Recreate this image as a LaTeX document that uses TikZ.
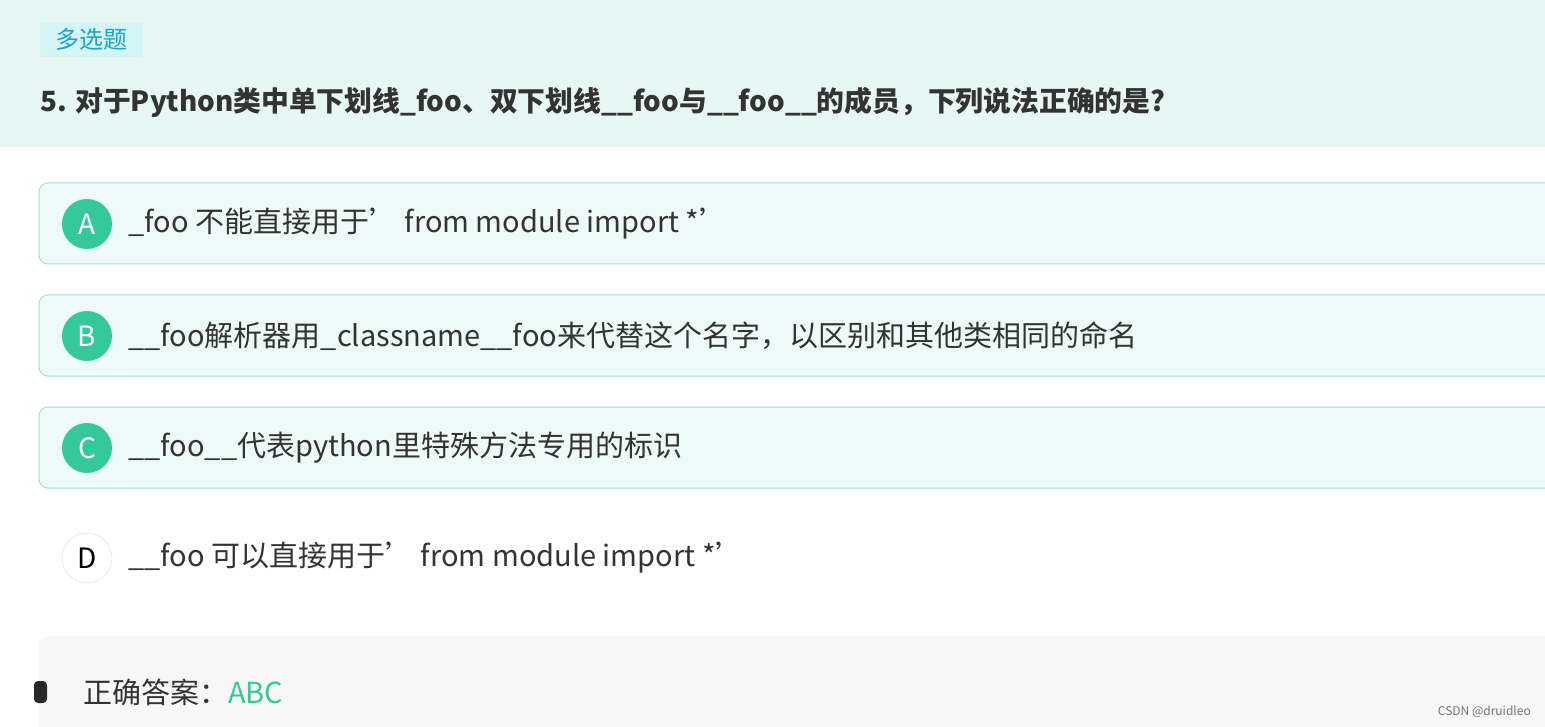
\documentclass[tikz,border=0pt]{standalone}
\usepackage{fontspec}
\setmainfont{Noto Sans CJK SC}
\definecolor{hdr}{HTML}{E6F7F4}
\definecolor{tagbg}{HTML}{D5F4F6}
\definecolor{tagfg}{HTML}{1AA6C8}
\definecolor{optbg}{HTML}{EEFAF7}
\definecolor{optbd}{HTML}{9EE3CB}
\definecolor{grn}{HTML}{34C99A}
\definecolor{txt}{HTML}{333333}
\definecolor{ansbg}{HTML}{F7F7F7}
\tikzset{
 optbox/.style={fill=optbg,draw=optbd,line width=1pt,rounded corners=9pt},
 badge/.style={circle,minimum size=50pt,inner sep=0pt,fill=grn,text=white,font=\fontsize{28}{30}\selectfont},
 badgew/.style={circle,minimum size=50pt,inner sep=0pt,fill=white,draw=black!15,text=black,font=\fontsize{28}{30}\selectfont},
 opttext/.style={anchor=west,inner sep=0pt,text=txt,font=\fontsize{29}{32}\selectfont},
}
\begin{document}
\begin{tikzpicture}[x=1pt,y=-1pt]
\useasboundingbox (0,0) rectangle (1545,727);
\fill[hdr] (0,0) rectangle (1545,147);
\node[fill=tagbg,text=tagfg,anchor=west,minimum width=103pt,minimum height=35pt,inner sep=0pt,font=\fontsize{24}{26}\selectfont] (tag) at (40,39.5) {多选题};
\node[anchor=west,inner sep=0pt,text=txt,font=\bfseries\fontsize{27.8}{30}\selectfont] (title) at (40,102) {5. 对于Python类中单下划线\_foo、双下划线\_\_foo与\_\_foo\_\_的成员，下列说法正确的是?};
\draw[optbox] (39,183) rectangle (1560,264);
\draw[optbox] (39,295) rectangle (1560,376);
\draw[optbox] (39,407) rectangle (1560,488);
\node[badge] (a) at (87,224) {A};
\node[badge] (b) at (87,336) {B};
\node[badge] (c) at (87,448) {C};
\node[badgew] (d) at (87,558) {D};
\node[opttext] (ta) at (128,224) {\_foo 不能直接用于’ from module import *’};
\node[opttext] (tb) at (128,336) {\_\_foo解析器用\_classname\_\_foo来代替这个名字，以区别和其他类相同的命名};
\node[opttext] (tc) at (128,448) {\_\_foo\_\_代表python里特殊方法专用的标识};
\node[opttext] (td) at (128,558) {\_\_foo 可以直接用于’ from module import *’};
\fill[ansbg,rounded corners=9pt] (39,636) rectangle (1560,760);
\fill[txt!80!black,rounded corners=4pt] (34,681) rectangle (47,703);
\node[opttext] (ans) at (83,692) {正确答案：\textcolor{grn}{ABC}};
\node[anchor=east,inner sep=0pt,text=black!55,font=\fontsize{12}{14}\selectfont] (wm) at (1531,712) {CSDN @druidleo};
\end{tikzpicture}
\end{document}
